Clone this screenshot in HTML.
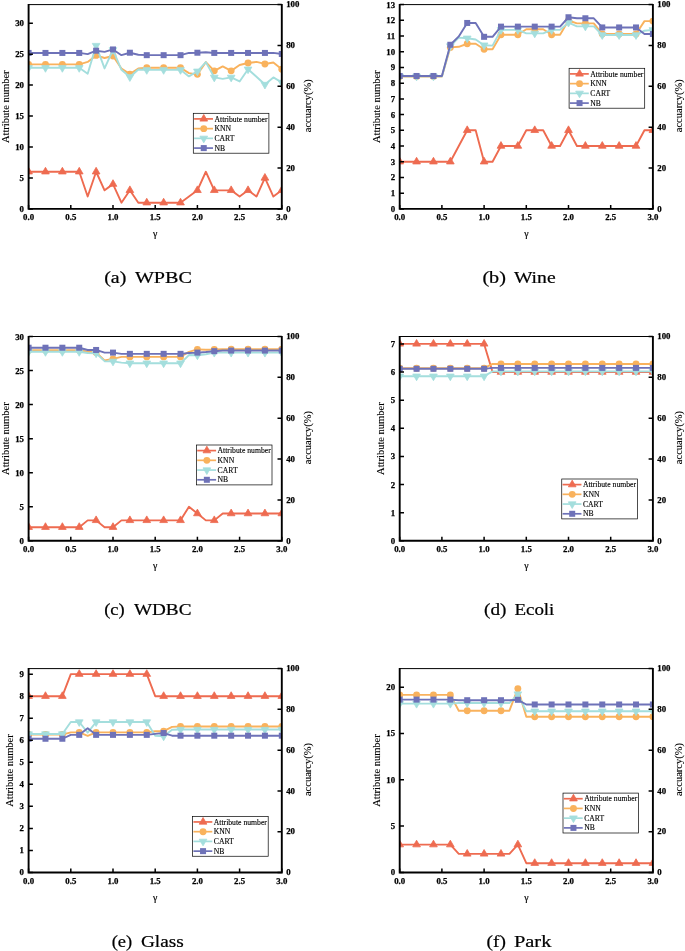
<!DOCTYPE html>
<html lang="en"><head><meta charset="utf-8"><title>Figure</title>
<style>
html,body{margin:0;padding:0;background:#fff}
body{width:685px;height:951px;overflow:hidden}
svg{display:block}
text{font-family:"Liberation Serif","Times New Roman",serif;fill:#000}
.tk{font-size:8.8px;font-weight:bold;stroke:#000;stroke-width:0.25px}
.ax{font-size:10.5px;stroke:#000;stroke-width:0.1px}
.lg{font-size:7.7px;stroke:#000;stroke-width:0.12px}
.cap{font-size:17.4px;stroke:#000;stroke-width:0.22px}
.gm{font-size:9.8px;stroke:#000;stroke-width:0.2px}
</style></head><body>
<svg width="685" height="951" viewBox="0 0 685 951">
<rect width="685" height="951" fill="#fff"/>
<g id="panel-a">
<clipPath id="cpa"><rect x="28.6" y="4.6" width="253.2" height="204.3"/></clipPath>
<g clip-path="url(#cpa)">
<path d="M28.6 171.75 L37.04 171.75 L45.48 171.75 L53.92 171.75 L62.36 171.75 L70.8 171.75 L79.24 171.75 L87.68 196.52 L96.12 171.75 L104.56 190.33 L113 184.14 L121.44 202.71 L129.88 190.33 L138.32 202.71 L146.76 202.71 L155.2 202.71 L163.64 202.71 L172.08 202.71 L180.52 202.71 L188.96 196.52 L197.4 190.33 L205.84 171.75 L214.28 190.33 L222.72 190.33 L231.16 190.33 L239.6 196.52 L248.04 190.33 L256.48 196.52 L264.92 177.95 L273.36 196.52 L281.8 190.33" fill="none" stroke="#EE6B50" stroke-width="1.9" stroke-linejoin="round"/>
<path d="M24.75 173.95H32.45L28.6 167.3Z" fill="#EE6B50" stroke="#EE6B50" stroke-width="0.8" stroke-linejoin="round"/><path d="M41.63 173.95H49.33L45.48 167.3Z" fill="#EE6B50" stroke="#EE6B50" stroke-width="0.8" stroke-linejoin="round"/><path d="M58.51 173.95H66.21L62.36 167.3Z" fill="#EE6B50" stroke="#EE6B50" stroke-width="0.8" stroke-linejoin="round"/><path d="M75.39 173.95H83.09L79.24 167.3Z" fill="#EE6B50" stroke="#EE6B50" stroke-width="0.8" stroke-linejoin="round"/><path d="M92.27 173.95H99.97L96.12 167.3Z" fill="#EE6B50" stroke="#EE6B50" stroke-width="0.8" stroke-linejoin="round"/><path d="M109.15 186.34H116.85L113 179.69Z" fill="#EE6B50" stroke="#EE6B50" stroke-width="0.8" stroke-linejoin="round"/><path d="M126.03 192.53H133.73L129.88 185.88Z" fill="#EE6B50" stroke="#EE6B50" stroke-width="0.8" stroke-linejoin="round"/><path d="M142.91 204.91H150.61L146.76 198.26Z" fill="#EE6B50" stroke="#EE6B50" stroke-width="0.8" stroke-linejoin="round"/><path d="M159.79 204.91H167.49L163.64 198.26Z" fill="#EE6B50" stroke="#EE6B50" stroke-width="0.8" stroke-linejoin="round"/><path d="M176.67 204.91H184.37L180.52 198.26Z" fill="#EE6B50" stroke="#EE6B50" stroke-width="0.8" stroke-linejoin="round"/><path d="M193.55 192.53H201.25L197.4 185.88Z" fill="#EE6B50" stroke="#EE6B50" stroke-width="0.8" stroke-linejoin="round"/><path d="M210.43 192.53H218.13L214.28 185.88Z" fill="#EE6B50" stroke="#EE6B50" stroke-width="0.8" stroke-linejoin="round"/><path d="M227.31 192.53H235.01L231.16 185.88Z" fill="#EE6B50" stroke="#EE6B50" stroke-width="0.8" stroke-linejoin="round"/><path d="M244.19 192.53H251.89L248.04 185.88Z" fill="#EE6B50" stroke="#EE6B50" stroke-width="0.8" stroke-linejoin="round"/><path d="M261.07 180.15H268.77L264.92 173.5Z" fill="#EE6B50" stroke="#EE6B50" stroke-width="0.8" stroke-linejoin="round"/><path d="M277.95 192.53H285.65L281.8 185.88Z" fill="#EE6B50" stroke="#EE6B50" stroke-width="0.8" stroke-linejoin="round"/>
<path d="M28.6 64.35 L37.04 64.35 L45.48 64.35 L53.92 64.35 L62.36 64.35 L70.8 64.35 L79.24 64.35 L87.68 61.9 L96.12 55.38 L104.56 58.03 L113 55.99 L121.44 68.42 L129.88 74.13 L138.32 68.42 L146.76 67.81 L155.2 67.81 L163.64 67.81 L172.08 67.81 L180.52 67.81 L188.96 73.11 L197.4 74.34 L205.84 62.1 L214.28 70.87 L222.72 66.39 L231.16 70.87 L239.6 64.96 L248.04 63.02 L256.48 61.9 L264.92 63.94 L273.36 62.51 L281.8 69.24" fill="none" stroke="#F9B25D" stroke-width="1.9" stroke-linejoin="round"/>
<circle cx="28.6" cy="64.35" r="3.45" fill="#F9B25D"/><circle cx="45.48" cy="64.35" r="3.45" fill="#F9B25D"/><circle cx="62.36" cy="64.35" r="3.45" fill="#F9B25D"/><circle cx="79.24" cy="64.35" r="3.45" fill="#F9B25D"/><circle cx="96.12" cy="55.38" r="3.45" fill="#F9B25D"/><circle cx="113" cy="55.99" r="3.45" fill="#F9B25D"/><circle cx="129.88" cy="74.13" r="3.45" fill="#F9B25D"/><circle cx="146.76" cy="67.81" r="3.45" fill="#F9B25D"/><circle cx="163.64" cy="67.81" r="3.45" fill="#F9B25D"/><circle cx="180.52" cy="67.81" r="3.45" fill="#F9B25D"/><circle cx="197.4" cy="74.34" r="3.45" fill="#F9B25D"/><circle cx="214.28" cy="70.87" r="3.45" fill="#F9B25D"/><circle cx="231.16" cy="70.87" r="3.45" fill="#F9B25D"/><circle cx="248.04" cy="63.02" r="3.45" fill="#F9B25D"/><circle cx="264.92" cy="63.94" r="3.45" fill="#F9B25D"/><circle cx="281.8" cy="69.24" r="3.45" fill="#F9B25D"/>
<path d="M28.6 67.81 L37.04 67.81 L45.48 67.81 L53.92 67.81 L62.36 67.81 L70.8 67.81 L79.24 67.81 L87.68 73.73 L96.12 45.59 L104.56 68.42 L113 49.87 L121.44 69.85 L129.88 76.99 L138.32 69.44 L146.76 69.85 L155.2 69.85 L163.64 69.85 L172.08 69.85 L180.52 69.85 L188.96 76.38 L197.4 71.28 L205.84 62.1 L214.28 77.4 L222.72 78.82 L231.16 77.4 L239.6 81.47 L248.04 69.24 L256.48 76.78 L264.92 84.53 L273.36 77.4 L281.8 82.49" fill="none" stroke="#A4DEDD" stroke-width="1.9" stroke-linejoin="round"/>
<path d="M24.75 65.61H32.45L28.6 72.26Z" fill="#A4DEDD" stroke="#A4DEDD" stroke-width="0.8" stroke-linejoin="round"/><path d="M41.63 65.61H49.33L45.48 72.26Z" fill="#A4DEDD" stroke="#A4DEDD" stroke-width="0.8" stroke-linejoin="round"/><path d="M58.51 65.61H66.21L62.36 72.26Z" fill="#A4DEDD" stroke="#A4DEDD" stroke-width="0.8" stroke-linejoin="round"/><path d="M75.39 65.61H83.09L79.24 72.26Z" fill="#A4DEDD" stroke="#A4DEDD" stroke-width="0.8" stroke-linejoin="round"/><path d="M92.27 43.39H99.97L96.12 50.04Z" fill="#A4DEDD" stroke="#A4DEDD" stroke-width="0.8" stroke-linejoin="round"/><path d="M109.15 47.67H116.85L113 54.32Z" fill="#A4DEDD" stroke="#A4DEDD" stroke-width="0.8" stroke-linejoin="round"/><path d="M126.03 74.79H133.73L129.88 81.44Z" fill="#A4DEDD" stroke="#A4DEDD" stroke-width="0.8" stroke-linejoin="round"/><path d="M142.91 67.65H150.61L146.76 74.3Z" fill="#A4DEDD" stroke="#A4DEDD" stroke-width="0.8" stroke-linejoin="round"/><path d="M159.79 67.65H167.49L163.64 74.3Z" fill="#A4DEDD" stroke="#A4DEDD" stroke-width="0.8" stroke-linejoin="round"/><path d="M176.67 67.65H184.37L180.52 74.3Z" fill="#A4DEDD" stroke="#A4DEDD" stroke-width="0.8" stroke-linejoin="round"/><path d="M193.55 69.08H201.25L197.4 75.73Z" fill="#A4DEDD" stroke="#A4DEDD" stroke-width="0.8" stroke-linejoin="round"/><path d="M210.43 75.2H218.13L214.28 81.85Z" fill="#A4DEDD" stroke="#A4DEDD" stroke-width="0.8" stroke-linejoin="round"/><path d="M227.31 75.2H235.01L231.16 81.85Z" fill="#A4DEDD" stroke="#A4DEDD" stroke-width="0.8" stroke-linejoin="round"/><path d="M244.19 67.04H251.89L248.04 73.69Z" fill="#A4DEDD" stroke="#A4DEDD" stroke-width="0.8" stroke-linejoin="round"/><path d="M261.07 82.33H268.77L264.92 88.98Z" fill="#A4DEDD" stroke="#A4DEDD" stroke-width="0.8" stroke-linejoin="round"/><path d="M277.95 80.29H285.65L281.8 86.94Z" fill="#A4DEDD" stroke="#A4DEDD" stroke-width="0.8" stroke-linejoin="round"/>
<path d="M28.6 52.93 L37.04 52.93 L45.48 52.93 L53.92 52.93 L62.36 52.93 L70.8 52.93 L79.24 52.93 L87.68 54.15 L96.12 50.69 L104.56 51.91 L113 49.46 L121.44 55.17 L129.88 52.72 L138.32 54.76 L146.76 55.17 L155.2 55.17 L163.64 55.17 L172.08 55.17 L180.52 55.17 L188.96 52.93 L197.4 52.72 L205.84 52.32 L214.28 52.93 L222.72 52.93 L231.16 52.93 L239.6 52.93 L248.04 52.93 L256.48 52.93 L264.92 52.93 L273.36 52.93 L281.8 53.95" fill="none" stroke="#6E72B8" stroke-width="1.9" stroke-linejoin="round"/>
<rect x="25.6" y="49.93" width="6" height="6" fill="#6E72B8"/><rect x="42.48" y="49.93" width="6" height="6" fill="#6E72B8"/><rect x="59.36" y="49.93" width="6" height="6" fill="#6E72B8"/><rect x="76.24" y="49.93" width="6" height="6" fill="#6E72B8"/><rect x="93.12" y="47.69" width="6" height="6" fill="#6E72B8"/><rect x="110" y="46.46" width="6" height="6" fill="#6E72B8"/><rect x="126.88" y="49.72" width="6" height="6" fill="#6E72B8"/><rect x="143.76" y="52.17" width="6" height="6" fill="#6E72B8"/><rect x="160.64" y="52.17" width="6" height="6" fill="#6E72B8"/><rect x="177.52" y="52.17" width="6" height="6" fill="#6E72B8"/><rect x="194.4" y="49.72" width="6" height="6" fill="#6E72B8"/><rect x="211.28" y="49.93" width="6" height="6" fill="#6E72B8"/><rect x="228.16" y="49.93" width="6" height="6" fill="#6E72B8"/><rect x="245.04" y="49.93" width="6" height="6" fill="#6E72B8"/><rect x="261.92" y="49.93" width="6" height="6" fill="#6E72B8"/><rect x="278.8" y="50.95" width="6" height="6" fill="#6E72B8"/>
</g>
<path d="M28.6 4.6H281.8" stroke="#000" stroke-width="1" fill="none"/>
<path d="M28.6 4.1V208.9H281.8V4.1" stroke="#000" stroke-width="1.9" fill="none" stroke-linejoin="miter"/>
<path d="M28.6 208.9h4.3M28.6 177.95h4.3M28.6 146.99h4.3M28.6 116.04h4.3M28.6 85.08h4.3M28.6 54.13h4.3M28.6 23.17h4.3M281.8 208.9h-4.3M281.8 168.04h-4.3M281.8 127.18h-4.3M281.8 86.32h-4.3M281.8 45.46h-4.3M281.8 4.6h-4.3M28.6 208.9v-4.0M70.8 208.9v-4.0M113 208.9v-4.0M155.2 208.9v-4.0M197.4 208.9v-4.0M239.6 208.9v-4.0M281.8 208.9v-4.0" stroke="#000" stroke-width="1.5" fill="none"/>
<text class="tk" x="24" y="211.9" text-anchor="end">0</text><text class="tk" x="24" y="180.95" text-anchor="end">5</text><text class="tk" x="24" y="149.99" text-anchor="end">10</text><text class="tk" x="24" y="119.04" text-anchor="end">15</text><text class="tk" x="24" y="88.08" text-anchor="end">20</text><text class="tk" x="24" y="57.13" text-anchor="end">25</text><text class="tk" x="24" y="26.17" text-anchor="end">30</text>
<text class="tk" x="286.2" y="211.6">0</text><text class="tk" x="286.2" y="170.74">20</text><text class="tk" x="286.2" y="129.88">40</text><text class="tk" x="286.2" y="89.02">60</text><text class="tk" x="286.2" y="48.16">80</text><text class="tk" x="286.2" y="7.3">100</text>
<text class="tk" x="28.6" y="219.8" text-anchor="middle">0.0</text><text class="tk" x="70.8" y="219.8" text-anchor="middle">0.5</text><text class="tk" x="113" y="219.8" text-anchor="middle">1.0</text><text class="tk" x="155.2" y="219.8" text-anchor="middle">1.5</text><text class="tk" x="197.4" y="219.8" text-anchor="middle">2.0</text><text class="tk" x="239.6" y="219.8" text-anchor="middle">2.5</text><text class="tk" x="281.8" y="219.8" text-anchor="middle">3.0</text>
<text class="ax" transform="translate(8.7 106.75) rotate(-90)" text-anchor="middle">Attribute number</text>
<text class="ax" transform="translate(311.1 105.75) rotate(-90)" text-anchor="middle">accuarcy(%)</text>
<text class="gm" x="155.2" y="236.6" text-anchor="middle">γ</text>
<rect x="193.3" y="113.3" width="75.6" height="39.9" fill="#fff" stroke="#000" stroke-width="0.7"/>
<path d="M194.1 118.9h18.9" stroke="#EE6B50" stroke-width="1.7" fill="none"/><path d="M199.9 121.1H207.6L203.75 114.45Z" fill="#EE6B50" stroke="#EE6B50" stroke-width="0.8" stroke-linejoin="round"/><text class="lg" x="214.45" y="121.5">Attribute number</text>
<path d="M194.1 128.63h18.9" stroke="#F9B25D" stroke-width="1.7" fill="none"/><circle cx="203.75" cy="128.63" r="3.45" fill="#F9B25D"/><text class="lg" x="214.45" y="131.23">KNN</text>
<path d="M194.1 138.36h18.9" stroke="#A4DEDD" stroke-width="1.7" fill="none"/><path d="M199.9 136.16H207.6L203.75 142.81Z" fill="#A4DEDD" stroke="#A4DEDD" stroke-width="0.8" stroke-linejoin="round"/><text class="lg" x="214.45" y="140.96">CART</text>
<path d="M194.1 148.09h18.9" stroke="#6E72B8" stroke-width="1.7" fill="none"/><rect x="200.75" y="145.09" width="6" height="6" fill="#6E72B8"/><text class="lg" x="214.45" y="150.69">NB</text>
<text class="cap" x="104.2" y="282.9" textLength="22.1" lengthAdjust="spacingAndGlyphs">(a)</text><text class="cap" x="134.9" y="282.9" textLength="57" lengthAdjust="spacingAndGlyphs">WPBC</text>
</g>
<g id="panel-b">
<clipPath id="cpb"><rect x="399.7" y="4.6" width="253.2" height="204.3"/></clipPath>
<g clip-path="url(#cpb)">
<path d="M399.7 161.75 L408.14 161.75 L416.58 161.75 L425.02 161.75 L433.46 161.75 L441.9 161.75 L450.34 161.75 L458.78 146.04 L467.22 130.32 L475.66 130.32 L484.1 161.75 L492.54 161.75 L500.98 146.04 L509.42 146.04 L517.86 146.04 L526.3 130.32 L534.74 130.32 L543.18 130.32 L551.62 146.04 L560.06 146.04 L568.5 130.32 L576.94 146.04 L585.38 146.04 L593.82 146.04 L602.26 146.04 L610.7 146.04 L619.14 146.04 L627.58 146.04 L636.02 146.04 L644.46 130.32 L652.9 130.32" fill="none" stroke="#EE6B50" stroke-width="1.9" stroke-linejoin="round"/>
<path d="M395.85 163.95H403.55L399.7 157.3Z" fill="#EE6B50" stroke="#EE6B50" stroke-width="0.8" stroke-linejoin="round"/><path d="M412.73 163.95H420.43L416.58 157.3Z" fill="#EE6B50" stroke="#EE6B50" stroke-width="0.8" stroke-linejoin="round"/><path d="M429.61 163.95H437.31L433.46 157.3Z" fill="#EE6B50" stroke="#EE6B50" stroke-width="0.8" stroke-linejoin="round"/><path d="M446.49 163.95H454.19L450.34 157.3Z" fill="#EE6B50" stroke="#EE6B50" stroke-width="0.8" stroke-linejoin="round"/><path d="M463.37 132.52H471.07L467.22 125.87Z" fill="#EE6B50" stroke="#EE6B50" stroke-width="0.8" stroke-linejoin="round"/><path d="M480.25 163.95H487.95L484.1 157.3Z" fill="#EE6B50" stroke="#EE6B50" stroke-width="0.8" stroke-linejoin="round"/><path d="M497.13 148.24H504.83L500.98 141.59Z" fill="#EE6B50" stroke="#EE6B50" stroke-width="0.8" stroke-linejoin="round"/><path d="M514.01 148.24H521.71L517.86 141.59Z" fill="#EE6B50" stroke="#EE6B50" stroke-width="0.8" stroke-linejoin="round"/><path d="M530.89 132.52H538.59L534.74 125.87Z" fill="#EE6B50" stroke="#EE6B50" stroke-width="0.8" stroke-linejoin="round"/><path d="M547.77 148.24H555.47L551.62 141.59Z" fill="#EE6B50" stroke="#EE6B50" stroke-width="0.8" stroke-linejoin="round"/><path d="M564.65 132.52H572.35L568.5 125.87Z" fill="#EE6B50" stroke="#EE6B50" stroke-width="0.8" stroke-linejoin="round"/><path d="M581.53 148.24H589.23L585.38 141.59Z" fill="#EE6B50" stroke="#EE6B50" stroke-width="0.8" stroke-linejoin="round"/><path d="M598.41 148.24H606.11L602.26 141.59Z" fill="#EE6B50" stroke="#EE6B50" stroke-width="0.8" stroke-linejoin="round"/><path d="M615.29 148.24H622.99L619.14 141.59Z" fill="#EE6B50" stroke="#EE6B50" stroke-width="0.8" stroke-linejoin="round"/><path d="M632.17 148.24H639.87L636.02 141.59Z" fill="#EE6B50" stroke="#EE6B50" stroke-width="0.8" stroke-linejoin="round"/><path d="M649.05 132.52H656.75L652.9 125.87Z" fill="#EE6B50" stroke="#EE6B50" stroke-width="0.8" stroke-linejoin="round"/>
<path d="M399.7 76.58 L408.14 76.58 L416.58 76.58 L425.02 76.58 L433.46 76.58 L441.9 76.58 L450.34 47.42 L458.78 46.81 L467.22 43.75 L475.66 43.75 L484.1 49.26 L492.54 49.26 L500.98 34.78 L509.42 34.78 L517.86 34.78 L526.3 29.28 L534.74 29.28 L543.18 29.28 L551.62 34.78 L560.06 34.78 L568.5 20.51 L576.94 23.36 L585.38 23.36 L593.82 23.36 L602.26 33.97 L610.7 33.97 L619.14 33.97 L627.58 33.97 L636.02 33.97 L644.46 21.12 L652.9 21.12" fill="none" stroke="#F9B25D" stroke-width="1.9" stroke-linejoin="round"/>
<circle cx="399.7" cy="76.58" r="3.45" fill="#F9B25D"/><circle cx="416.58" cy="76.58" r="3.45" fill="#F9B25D"/><circle cx="433.46" cy="76.58" r="3.45" fill="#F9B25D"/><circle cx="450.34" cy="47.42" r="3.45" fill="#F9B25D"/><circle cx="467.22" cy="43.75" r="3.45" fill="#F9B25D"/><circle cx="484.1" cy="49.26" r="3.45" fill="#F9B25D"/><circle cx="500.98" cy="34.78" r="3.45" fill="#F9B25D"/><circle cx="517.86" cy="34.78" r="3.45" fill="#F9B25D"/><circle cx="534.74" cy="29.28" r="3.45" fill="#F9B25D"/><circle cx="551.62" cy="34.78" r="3.45" fill="#F9B25D"/><circle cx="568.5" cy="20.51" r="3.45" fill="#F9B25D"/><circle cx="585.38" cy="23.36" r="3.45" fill="#F9B25D"/><circle cx="602.26" cy="33.97" r="3.45" fill="#F9B25D"/><circle cx="619.14" cy="33.97" r="3.45" fill="#F9B25D"/><circle cx="636.02" cy="33.97" r="3.45" fill="#F9B25D"/><circle cx="652.9" cy="21.12" r="3.45" fill="#F9B25D"/>
<path d="M399.7 76.38 L408.14 76.38 L416.58 76.38 L425.02 76.38 L433.46 76.38 L441.9 76.38 L450.34 46 L458.78 37.64 L467.22 38.25 L475.66 39.47 L484.1 45.18 L492.54 45.59 L500.98 29.89 L509.42 29.89 L517.86 29.89 L526.3 33.35 L534.74 33.35 L543.18 33.35 L551.62 29.89 L560.06 29.89 L568.5 22.55 L576.94 26.42 L585.38 26.42 L593.82 26.42 L602.26 34.98 L610.7 34.98 L619.14 34.98 L627.58 34.98 L636.02 34.98 L644.46 30.7 L652.9 29.89" fill="none" stroke="#A4DEDD" stroke-width="1.9" stroke-linejoin="round"/>
<path d="M395.85 74.18H403.55L399.7 80.83Z" fill="#A4DEDD" stroke="#A4DEDD" stroke-width="0.8" stroke-linejoin="round"/><path d="M412.73 74.18H420.43L416.58 80.83Z" fill="#A4DEDD" stroke="#A4DEDD" stroke-width="0.8" stroke-linejoin="round"/><path d="M429.61 74.18H437.31L433.46 80.83Z" fill="#A4DEDD" stroke="#A4DEDD" stroke-width="0.8" stroke-linejoin="round"/><path d="M446.49 43.8H454.19L450.34 50.45Z" fill="#A4DEDD" stroke="#A4DEDD" stroke-width="0.8" stroke-linejoin="round"/><path d="M463.37 36.05H471.07L467.22 42.7Z" fill="#A4DEDD" stroke="#A4DEDD" stroke-width="0.8" stroke-linejoin="round"/><path d="M480.25 42.98H487.95L484.1 49.63Z" fill="#A4DEDD" stroke="#A4DEDD" stroke-width="0.8" stroke-linejoin="round"/><path d="M497.13 27.69H504.83L500.98 34.34Z" fill="#A4DEDD" stroke="#A4DEDD" stroke-width="0.8" stroke-linejoin="round"/><path d="M514.01 27.69H521.71L517.86 34.34Z" fill="#A4DEDD" stroke="#A4DEDD" stroke-width="0.8" stroke-linejoin="round"/><path d="M530.89 31.15H538.59L534.74 37.8Z" fill="#A4DEDD" stroke="#A4DEDD" stroke-width="0.8" stroke-linejoin="round"/><path d="M547.77 27.69H555.47L551.62 34.34Z" fill="#A4DEDD" stroke="#A4DEDD" stroke-width="0.8" stroke-linejoin="round"/><path d="M564.65 20.35H572.35L568.5 27Z" fill="#A4DEDD" stroke="#A4DEDD" stroke-width="0.8" stroke-linejoin="round"/><path d="M581.53 24.22H589.23L585.38 30.87Z" fill="#A4DEDD" stroke="#A4DEDD" stroke-width="0.8" stroke-linejoin="round"/><path d="M598.41 32.78H606.11L602.26 39.43Z" fill="#A4DEDD" stroke="#A4DEDD" stroke-width="0.8" stroke-linejoin="round"/><path d="M615.29 32.78H622.99L619.14 39.43Z" fill="#A4DEDD" stroke="#A4DEDD" stroke-width="0.8" stroke-linejoin="round"/><path d="M632.17 32.78H639.87L636.02 39.43Z" fill="#A4DEDD" stroke="#A4DEDD" stroke-width="0.8" stroke-linejoin="round"/><path d="M649.05 27.69H656.75L652.9 34.34Z" fill="#A4DEDD" stroke="#A4DEDD" stroke-width="0.8" stroke-linejoin="round"/>
<path d="M399.7 75.97 L408.14 75.97 L416.58 75.97 L425.02 75.97 L433.46 75.97 L441.9 75.97 L450.34 44.77 L458.78 36.41 L467.22 22.95 L475.66 22.95 L484.1 36.82 L492.54 36.82 L500.98 26.63 L509.42 26.63 L517.86 26.63 L526.3 26.63 L534.74 26.63 L543.18 26.63 L551.62 26.63 L560.06 26.63 L568.5 17.25 L576.94 18.27 L585.38 18.27 L593.82 18.27 L602.26 27.44 L610.7 27.44 L619.14 27.44 L627.58 27.44 L636.02 27.44 L644.46 33.97 L652.9 33.97" fill="none" stroke="#6E72B8" stroke-width="1.9" stroke-linejoin="round"/>
<rect x="396.7" y="72.97" width="6" height="6" fill="#6E72B8"/><rect x="413.58" y="72.97" width="6" height="6" fill="#6E72B8"/><rect x="430.46" y="72.97" width="6" height="6" fill="#6E72B8"/><rect x="447.34" y="41.77" width="6" height="6" fill="#6E72B8"/><rect x="464.22" y="19.95" width="6" height="6" fill="#6E72B8"/><rect x="481.1" y="33.82" width="6" height="6" fill="#6E72B8"/><rect x="497.98" y="23.63" width="6" height="6" fill="#6E72B8"/><rect x="514.86" y="23.63" width="6" height="6" fill="#6E72B8"/><rect x="531.74" y="23.63" width="6" height="6" fill="#6E72B8"/><rect x="548.62" y="23.63" width="6" height="6" fill="#6E72B8"/><rect x="565.5" y="14.25" width="6" height="6" fill="#6E72B8"/><rect x="582.38" y="15.27" width="6" height="6" fill="#6E72B8"/><rect x="599.26" y="24.44" width="6" height="6" fill="#6E72B8"/><rect x="616.14" y="24.44" width="6" height="6" fill="#6E72B8"/><rect x="633.02" y="24.44" width="6" height="6" fill="#6E72B8"/><rect x="649.9" y="30.97" width="6" height="6" fill="#6E72B8"/>
</g>
<path d="M399.7 4.6H652.9" stroke="#000" stroke-width="1" fill="none"/>
<path d="M399.7 4.1V208.9H652.9V4.1" stroke="#000" stroke-width="1.9" fill="none" stroke-linejoin="miter"/>
<path d="M399.7 208.9h4.3M399.7 193.18h4.3M399.7 177.47h4.3M399.7 161.75h4.3M399.7 146.04h4.3M399.7 130.32h4.3M399.7 114.61h4.3M399.7 98.89h4.3M399.7 83.18h4.3M399.7 67.46h4.3M399.7 51.75h4.3M399.7 36.03h4.3M399.7 20.32h4.3M399.7 4.6h4.3M652.9 208.9h-4.3M652.9 168.04h-4.3M652.9 127.18h-4.3M652.9 86.32h-4.3M652.9 45.46h-4.3M652.9 4.6h-4.3M399.7 208.9v-4.0M441.9 208.9v-4.0M484.1 208.9v-4.0M526.3 208.9v-4.0M568.5 208.9v-4.0M610.7 208.9v-4.0M652.9 208.9v-4.0" stroke="#000" stroke-width="1.5" fill="none"/>
<text class="tk" x="395.1" y="211.9" text-anchor="end">0</text><text class="tk" x="395.1" y="196.18" text-anchor="end">1</text><text class="tk" x="395.1" y="180.47" text-anchor="end">2</text><text class="tk" x="395.1" y="164.75" text-anchor="end">3</text><text class="tk" x="395.1" y="149.04" text-anchor="end">4</text><text class="tk" x="395.1" y="133.32" text-anchor="end">5</text><text class="tk" x="395.1" y="117.61" text-anchor="end">6</text><text class="tk" x="395.1" y="101.89" text-anchor="end">7</text><text class="tk" x="395.1" y="86.18" text-anchor="end">8</text><text class="tk" x="395.1" y="70.46" text-anchor="end">9</text><text class="tk" x="395.1" y="54.75" text-anchor="end">10</text><text class="tk" x="395.1" y="39.03" text-anchor="end">11</text><text class="tk" x="395.1" y="23.32" text-anchor="end">12</text><text class="tk" x="395.1" y="7.6" text-anchor="end">13</text>
<text class="tk" x="657.3" y="211.6">0</text><text class="tk" x="657.3" y="170.74">20</text><text class="tk" x="657.3" y="129.88">40</text><text class="tk" x="657.3" y="89.02">60</text><text class="tk" x="657.3" y="48.16">80</text><text class="tk" x="657.3" y="7.3">100</text>
<text class="tk" x="399.7" y="219.8" text-anchor="middle">0.0</text><text class="tk" x="441.9" y="219.8" text-anchor="middle">0.5</text><text class="tk" x="484.1" y="219.8" text-anchor="middle">1.0</text><text class="tk" x="526.3" y="219.8" text-anchor="middle">1.5</text><text class="tk" x="568.5" y="219.8" text-anchor="middle">2.0</text><text class="tk" x="610.7" y="219.8" text-anchor="middle">2.5</text><text class="tk" x="652.9" y="219.8" text-anchor="middle">3.0</text>
<text class="ax" transform="translate(379.8 106.75) rotate(-90)" text-anchor="middle">Attribute number</text>
<text class="ax" transform="translate(682.2 105.75) rotate(-90)" text-anchor="middle">accuarcy(%)</text>
<text class="gm" x="526.3" y="236.6" text-anchor="middle">γ</text>
<rect x="569.1" y="68.3" width="75.6" height="39.9" fill="#fff" stroke="#000" stroke-width="0.7"/>
<path d="M569.9 73.9h18.9" stroke="#EE6B50" stroke-width="1.7" fill="none"/><path d="M575.7 76.1H583.4L579.55 69.45Z" fill="#EE6B50" stroke="#EE6B50" stroke-width="0.8" stroke-linejoin="round"/><text class="lg" x="590.25" y="76.5">Attribute number</text>
<path d="M569.9 83.63h18.9" stroke="#F9B25D" stroke-width="1.7" fill="none"/><circle cx="579.55" cy="83.63" r="3.45" fill="#F9B25D"/><text class="lg" x="590.25" y="86.23">KNN</text>
<path d="M569.9 93.36h18.9" stroke="#A4DEDD" stroke-width="1.7" fill="none"/><path d="M575.7 91.16H583.4L579.55 97.81Z" fill="#A4DEDD" stroke="#A4DEDD" stroke-width="0.8" stroke-linejoin="round"/><text class="lg" x="590.25" y="95.96">CART</text>
<path d="M569.9 103.09h18.9" stroke="#6E72B8" stroke-width="1.7" fill="none"/><rect x="576.55" y="100.09" width="6" height="6" fill="#6E72B8"/><text class="lg" x="590.25" y="105.69">NB</text>
<text class="cap" x="482.4" y="282.9" textLength="23.5" lengthAdjust="spacingAndGlyphs">(b)</text><text class="cap" x="513.9" y="282.9" textLength="41.7" lengthAdjust="spacingAndGlyphs">Wine</text>
</g>
<g id="panel-c">
<clipPath id="cpc"><rect x="28.6" y="336.5" width="253.2" height="204.3"/></clipPath>
<g clip-path="url(#cpc)">
<path d="M28.6 527.18 L37.04 527.18 L45.48 527.18 L53.92 527.18 L62.36 527.18 L70.8 527.18 L79.24 527.18 L87.68 520.37 L96.12 520.37 L104.56 527.18 L113 527.18 L121.44 520.37 L129.88 520.37 L138.32 520.37 L146.76 520.37 L155.2 520.37 L163.64 520.37 L172.08 520.37 L180.52 520.37 L188.96 506.75 L197.4 513.56 L205.84 520.37 L214.28 520.37 L222.72 513.56 L231.16 513.56 L239.6 513.56 L248.04 513.56 L256.48 513.56 L264.92 513.56 L273.36 513.56 L281.8 513.56" fill="none" stroke="#EE6B50" stroke-width="1.9" stroke-linejoin="round"/>
<path d="M24.75 529.38H32.45L28.6 522.73Z" fill="#EE6B50" stroke="#EE6B50" stroke-width="0.8" stroke-linejoin="round"/><path d="M41.63 529.38H49.33L45.48 522.73Z" fill="#EE6B50" stroke="#EE6B50" stroke-width="0.8" stroke-linejoin="round"/><path d="M58.51 529.38H66.21L62.36 522.73Z" fill="#EE6B50" stroke="#EE6B50" stroke-width="0.8" stroke-linejoin="round"/><path d="M75.39 529.38H83.09L79.24 522.73Z" fill="#EE6B50" stroke="#EE6B50" stroke-width="0.8" stroke-linejoin="round"/><path d="M92.27 522.57H99.97L96.12 515.92Z" fill="#EE6B50" stroke="#EE6B50" stroke-width="0.8" stroke-linejoin="round"/><path d="M109.15 529.38H116.85L113 522.73Z" fill="#EE6B50" stroke="#EE6B50" stroke-width="0.8" stroke-linejoin="round"/><path d="M126.03 522.57H133.73L129.88 515.92Z" fill="#EE6B50" stroke="#EE6B50" stroke-width="0.8" stroke-linejoin="round"/><path d="M142.91 522.57H150.61L146.76 515.92Z" fill="#EE6B50" stroke="#EE6B50" stroke-width="0.8" stroke-linejoin="round"/><path d="M159.79 522.57H167.49L163.64 515.92Z" fill="#EE6B50" stroke="#EE6B50" stroke-width="0.8" stroke-linejoin="round"/><path d="M176.67 522.57H184.37L180.52 515.92Z" fill="#EE6B50" stroke="#EE6B50" stroke-width="0.8" stroke-linejoin="round"/><path d="M193.55 515.76H201.25L197.4 509.11Z" fill="#EE6B50" stroke="#EE6B50" stroke-width="0.8" stroke-linejoin="round"/><path d="M210.43 522.57H218.13L214.28 515.92Z" fill="#EE6B50" stroke="#EE6B50" stroke-width="0.8" stroke-linejoin="round"/><path d="M227.31 515.76H235.01L231.16 509.11Z" fill="#EE6B50" stroke="#EE6B50" stroke-width="0.8" stroke-linejoin="round"/><path d="M244.19 515.76H251.89L248.04 509.11Z" fill="#EE6B50" stroke="#EE6B50" stroke-width="0.8" stroke-linejoin="round"/><path d="M261.07 515.76H268.77L264.92 509.11Z" fill="#EE6B50" stroke="#EE6B50" stroke-width="0.8" stroke-linejoin="round"/><path d="M277.95 515.76H285.65L281.8 509.11Z" fill="#EE6B50" stroke="#EE6B50" stroke-width="0.8" stroke-linejoin="round"/>
<path d="M28.6 350.17 L37.04 350.17 L45.48 350.17 L53.92 350.17 L62.36 350.17 L70.8 350.17 L79.24 350.17 L87.68 351.8 L96.12 352.41 L104.56 360.36 L113 358.93 L121.44 356.89 L129.88 356.89 L138.32 356.89 L146.76 356.89 L155.2 356.89 L163.64 356.89 L172.08 356.89 L180.52 356.89 L188.96 351.8 L197.4 349.35 L205.84 349.76 L214.28 349.55 L222.72 349.15 L231.16 349.15 L239.6 349.15 L248.04 349.15 L256.48 349.15 L264.92 349.15 L273.36 349.15 L281.8 349.15" fill="none" stroke="#F9B25D" stroke-width="1.9" stroke-linejoin="round"/>
<circle cx="28.6" cy="350.17" r="3.45" fill="#F9B25D"/><circle cx="45.48" cy="350.17" r="3.45" fill="#F9B25D"/><circle cx="62.36" cy="350.17" r="3.45" fill="#F9B25D"/><circle cx="79.24" cy="350.17" r="3.45" fill="#F9B25D"/><circle cx="96.12" cy="352.41" r="3.45" fill="#F9B25D"/><circle cx="113" cy="358.93" r="3.45" fill="#F9B25D"/><circle cx="129.88" cy="356.89" r="3.45" fill="#F9B25D"/><circle cx="146.76" cy="356.89" r="3.45" fill="#F9B25D"/><circle cx="163.64" cy="356.89" r="3.45" fill="#F9B25D"/><circle cx="180.52" cy="356.89" r="3.45" fill="#F9B25D"/><circle cx="197.4" cy="349.35" r="3.45" fill="#F9B25D"/><circle cx="214.28" cy="349.55" r="3.45" fill="#F9B25D"/><circle cx="231.16" cy="349.15" r="3.45" fill="#F9B25D"/><circle cx="248.04" cy="349.15" r="3.45" fill="#F9B25D"/><circle cx="264.92" cy="349.15" r="3.45" fill="#F9B25D"/><circle cx="281.8" cy="349.15" r="3.45" fill="#F9B25D"/>
<path d="M28.6 351.8 L37.04 351.8 L45.48 351.8 L53.92 351.8 L62.36 351.8 L70.8 351.8 L79.24 351.8 L87.68 353.02 L96.12 353.22 L104.56 361.18 L113 361.38 L121.44 362.6 L129.88 363.21 L138.32 363.21 L146.76 363.21 L155.2 363.21 L163.64 363.21 L172.08 363.21 L180.52 363.21 L188.96 355.06 L197.4 355.26 L205.84 354.24 L214.28 352.61 L222.72 352.61 L231.16 352.61 L239.6 352.61 L248.04 352.61 L256.48 352.61 L264.92 352.61 L273.36 352.61 L281.8 352.61" fill="none" stroke="#A4DEDD" stroke-width="1.9" stroke-linejoin="round"/>
<path d="M24.75 349.6H32.45L28.6 356.25Z" fill="#A4DEDD" stroke="#A4DEDD" stroke-width="0.8" stroke-linejoin="round"/><path d="M41.63 349.6H49.33L45.48 356.25Z" fill="#A4DEDD" stroke="#A4DEDD" stroke-width="0.8" stroke-linejoin="round"/><path d="M58.51 349.6H66.21L62.36 356.25Z" fill="#A4DEDD" stroke="#A4DEDD" stroke-width="0.8" stroke-linejoin="round"/><path d="M75.39 349.6H83.09L79.24 356.25Z" fill="#A4DEDD" stroke="#A4DEDD" stroke-width="0.8" stroke-linejoin="round"/><path d="M92.27 351.02H99.97L96.12 357.67Z" fill="#A4DEDD" stroke="#A4DEDD" stroke-width="0.8" stroke-linejoin="round"/><path d="M109.15 359.18H116.85L113 365.83Z" fill="#A4DEDD" stroke="#A4DEDD" stroke-width="0.8" stroke-linejoin="round"/><path d="M126.03 361.01H133.73L129.88 367.66Z" fill="#A4DEDD" stroke="#A4DEDD" stroke-width="0.8" stroke-linejoin="round"/><path d="M142.91 361.01H150.61L146.76 367.66Z" fill="#A4DEDD" stroke="#A4DEDD" stroke-width="0.8" stroke-linejoin="round"/><path d="M159.79 361.01H167.49L163.64 367.66Z" fill="#A4DEDD" stroke="#A4DEDD" stroke-width="0.8" stroke-linejoin="round"/><path d="M176.67 361.01H184.37L180.52 367.66Z" fill="#A4DEDD" stroke="#A4DEDD" stroke-width="0.8" stroke-linejoin="round"/><path d="M193.55 353.06H201.25L197.4 359.71Z" fill="#A4DEDD" stroke="#A4DEDD" stroke-width="0.8" stroke-linejoin="round"/><path d="M210.43 350.41H218.13L214.28 357.06Z" fill="#A4DEDD" stroke="#A4DEDD" stroke-width="0.8" stroke-linejoin="round"/><path d="M227.31 350.41H235.01L231.16 357.06Z" fill="#A4DEDD" stroke="#A4DEDD" stroke-width="0.8" stroke-linejoin="round"/><path d="M244.19 350.41H251.89L248.04 357.06Z" fill="#A4DEDD" stroke="#A4DEDD" stroke-width="0.8" stroke-linejoin="round"/><path d="M261.07 350.41H268.77L264.92 357.06Z" fill="#A4DEDD" stroke="#A4DEDD" stroke-width="0.8" stroke-linejoin="round"/><path d="M277.95 350.41H285.65L281.8 357.06Z" fill="#A4DEDD" stroke="#A4DEDD" stroke-width="0.8" stroke-linejoin="round"/>
<path d="M28.6 347.72 L37.04 347.72 L45.48 347.72 L53.92 347.72 L62.36 347.72 L70.8 347.72 L79.24 347.72 L87.68 349.96 L96.12 349.96 L104.56 352.61 L113 352.61 L121.44 353.84 L129.88 353.84 L138.32 353.84 L146.76 353.84 L155.2 353.84 L163.64 353.84 L172.08 353.84 L180.52 353.84 L188.96 353.02 L197.4 352.61 L205.84 352 L214.28 351.18 L222.72 350.57 L231.16 350.57 L239.6 350.57 L248.04 350.57 L256.48 350.57 L264.92 350.57 L273.36 350.57 L281.8 350.57" fill="none" stroke="#6E72B8" stroke-width="1.9" stroke-linejoin="round"/>
<rect x="25.6" y="344.72" width="6" height="6" fill="#6E72B8"/><rect x="42.48" y="344.72" width="6" height="6" fill="#6E72B8"/><rect x="59.36" y="344.72" width="6" height="6" fill="#6E72B8"/><rect x="76.24" y="344.72" width="6" height="6" fill="#6E72B8"/><rect x="93.12" y="346.96" width="6" height="6" fill="#6E72B8"/><rect x="110" y="349.61" width="6" height="6" fill="#6E72B8"/><rect x="126.88" y="350.84" width="6" height="6" fill="#6E72B8"/><rect x="143.76" y="350.84" width="6" height="6" fill="#6E72B8"/><rect x="160.64" y="350.84" width="6" height="6" fill="#6E72B8"/><rect x="177.52" y="350.84" width="6" height="6" fill="#6E72B8"/><rect x="194.4" y="349.61" width="6" height="6" fill="#6E72B8"/><rect x="211.28" y="348.18" width="6" height="6" fill="#6E72B8"/><rect x="228.16" y="347.57" width="6" height="6" fill="#6E72B8"/><rect x="245.04" y="347.57" width="6" height="6" fill="#6E72B8"/><rect x="261.92" y="347.57" width="6" height="6" fill="#6E72B8"/><rect x="278.8" y="347.57" width="6" height="6" fill="#6E72B8"/>
</g>
<path d="M28.6 336.5H281.8" stroke="#000" stroke-width="1" fill="none"/>
<path d="M28.6 336V540.8H281.8V336" stroke="#000" stroke-width="1.9" fill="none" stroke-linejoin="miter"/>
<path d="M28.6 540.8h4.3M28.6 506.75h4.3M28.6 472.7h4.3M28.6 438.65h4.3M28.6 404.6h4.3M28.6 370.55h4.3M28.6 336.5h4.3M281.8 540.8h-4.3M281.8 499.94h-4.3M281.8 459.08h-4.3M281.8 418.22h-4.3M281.8 377.36h-4.3M281.8 336.5h-4.3M28.6 540.8v-4.0M70.8 540.8v-4.0M113 540.8v-4.0M155.2 540.8v-4.0M197.4 540.8v-4.0M239.6 540.8v-4.0M281.8 540.8v-4.0" stroke="#000" stroke-width="1.5" fill="none"/>
<text class="tk" x="24" y="543.8" text-anchor="end">0</text><text class="tk" x="24" y="509.75" text-anchor="end">5</text><text class="tk" x="24" y="475.7" text-anchor="end">10</text><text class="tk" x="24" y="441.65" text-anchor="end">15</text><text class="tk" x="24" y="407.6" text-anchor="end">20</text><text class="tk" x="24" y="373.55" text-anchor="end">25</text><text class="tk" x="24" y="339.5" text-anchor="end">30</text>
<text class="tk" x="286.2" y="543.5">0</text><text class="tk" x="286.2" y="502.64">20</text><text class="tk" x="286.2" y="461.78">40</text><text class="tk" x="286.2" y="420.92">60</text><text class="tk" x="286.2" y="380.06">80</text><text class="tk" x="286.2" y="339.2">100</text>
<text class="tk" x="28.6" y="551.7" text-anchor="middle">0.0</text><text class="tk" x="70.8" y="551.7" text-anchor="middle">0.5</text><text class="tk" x="113" y="551.7" text-anchor="middle">1.0</text><text class="tk" x="155.2" y="551.7" text-anchor="middle">1.5</text><text class="tk" x="197.4" y="551.7" text-anchor="middle">2.0</text><text class="tk" x="239.6" y="551.7" text-anchor="middle">2.5</text><text class="tk" x="281.8" y="551.7" text-anchor="middle">3.0</text>
<text class="ax" transform="translate(8.7 438.65) rotate(-90)" text-anchor="middle">Attribute number</text>
<text class="ax" transform="translate(311.1 437.65) rotate(-90)" text-anchor="middle">accuarcy(%)</text>
<text class="gm" x="155.2" y="568.5" text-anchor="middle">γ</text>
<rect x="196.4" y="445" width="75.6" height="39.9" fill="#fff" stroke="#000" stroke-width="0.7"/>
<path d="M197.2 450.6h18.9" stroke="#EE6B50" stroke-width="1.7" fill="none"/><path d="M203 452.8H210.7L206.85 446.15Z" fill="#EE6B50" stroke="#EE6B50" stroke-width="0.8" stroke-linejoin="round"/><text class="lg" x="217.55" y="453.2">Attribute number</text>
<path d="M197.2 460.33h18.9" stroke="#F9B25D" stroke-width="1.7" fill="none"/><circle cx="206.85" cy="460.33" r="3.45" fill="#F9B25D"/><text class="lg" x="217.55" y="462.93">KNN</text>
<path d="M197.2 470.06h18.9" stroke="#A4DEDD" stroke-width="1.7" fill="none"/><path d="M203 467.86H210.7L206.85 474.51Z" fill="#A4DEDD" stroke="#A4DEDD" stroke-width="0.8" stroke-linejoin="round"/><text class="lg" x="217.55" y="472.66">CART</text>
<path d="M197.2 479.79h18.9" stroke="#6E72B8" stroke-width="1.7" fill="none"/><rect x="203.85" y="476.79" width="6" height="6" fill="#6E72B8"/><text class="lg" x="217.55" y="482.39">NB</text>
<text class="cap" x="104.2" y="614.8" textLength="20.5" lengthAdjust="spacingAndGlyphs">(c)</text><text class="cap" x="133.9" y="614.8" textLength="57.6" lengthAdjust="spacingAndGlyphs">WDBC</text>
</g>
<g id="panel-d">
<clipPath id="cpd"><rect x="399.7" y="336.5" width="253.2" height="204.3"/></clipPath>
<g clip-path="url(#cpd)">
<path d="M399.7 343.92 L408.14 343.92 L416.58 343.92 L425.02 343.92 L433.46 343.92 L441.9 343.92 L450.34 343.92 L458.78 343.92 L467.22 343.92 L475.66 343.92 L484.1 343.92 L492.54 372.05 L500.98 372.05 L509.42 372.05 L517.86 372.05 L526.3 372.05 L534.74 372.05 L543.18 372.05 L551.62 372.05 L560.06 372.05 L568.5 372.05 L576.94 372.05 L585.38 372.05 L593.82 372.05 L602.26 372.05 L610.7 372.05 L619.14 372.05 L627.58 372.05 L636.02 372.05 L644.46 372.05 L652.9 372.05" fill="none" stroke="#EE6B50" stroke-width="1.9" stroke-linejoin="round"/>
<path d="M395.85 346.12H403.55L399.7 339.47Z" fill="#EE6B50" stroke="#EE6B50" stroke-width="0.8" stroke-linejoin="round"/><path d="M412.73 346.12H420.43L416.58 339.47Z" fill="#EE6B50" stroke="#EE6B50" stroke-width="0.8" stroke-linejoin="round"/><path d="M429.61 346.12H437.31L433.46 339.47Z" fill="#EE6B50" stroke="#EE6B50" stroke-width="0.8" stroke-linejoin="round"/><path d="M446.49 346.12H454.19L450.34 339.47Z" fill="#EE6B50" stroke="#EE6B50" stroke-width="0.8" stroke-linejoin="round"/><path d="M463.37 346.12H471.07L467.22 339.47Z" fill="#EE6B50" stroke="#EE6B50" stroke-width="0.8" stroke-linejoin="round"/><path d="M480.25 346.12H487.95L484.1 339.47Z" fill="#EE6B50" stroke="#EE6B50" stroke-width="0.8" stroke-linejoin="round"/><path d="M497.13 374.25H504.83L500.98 367.6Z" fill="#EE6B50" stroke="#EE6B50" stroke-width="0.8" stroke-linejoin="round"/><path d="M514.01 374.25H521.71L517.86 367.6Z" fill="#EE6B50" stroke="#EE6B50" stroke-width="0.8" stroke-linejoin="round"/><path d="M530.89 374.25H538.59L534.74 367.6Z" fill="#EE6B50" stroke="#EE6B50" stroke-width="0.8" stroke-linejoin="round"/><path d="M547.77 374.25H555.47L551.62 367.6Z" fill="#EE6B50" stroke="#EE6B50" stroke-width="0.8" stroke-linejoin="round"/><path d="M564.65 374.25H572.35L568.5 367.6Z" fill="#EE6B50" stroke="#EE6B50" stroke-width="0.8" stroke-linejoin="round"/><path d="M581.53 374.25H589.23L585.38 367.6Z" fill="#EE6B50" stroke="#EE6B50" stroke-width="0.8" stroke-linejoin="round"/><path d="M598.41 374.25H606.11L602.26 367.6Z" fill="#EE6B50" stroke="#EE6B50" stroke-width="0.8" stroke-linejoin="round"/><path d="M615.29 374.25H622.99L619.14 367.6Z" fill="#EE6B50" stroke="#EE6B50" stroke-width="0.8" stroke-linejoin="round"/><path d="M632.17 374.25H639.87L636.02 367.6Z" fill="#EE6B50" stroke="#EE6B50" stroke-width="0.8" stroke-linejoin="round"/><path d="M649.05 374.25H656.75L652.9 367.6Z" fill="#EE6B50" stroke="#EE6B50" stroke-width="0.8" stroke-linejoin="round"/>
<path d="M399.7 368.21 L408.14 368.21 L416.58 368.21 L425.02 368.21 L433.46 368.21 L441.9 368.21 L450.34 368.21 L458.78 368.21 L467.22 368.21 L475.66 368.21 L484.1 368.21 L492.54 363.93 L500.98 363.93 L509.42 363.93 L517.86 363.93 L526.3 363.93 L534.74 363.93 L543.18 363.93 L551.62 363.93 L560.06 363.93 L568.5 363.93 L576.94 363.93 L585.38 363.93 L593.82 363.93 L602.26 363.93 L610.7 363.93 L619.14 363.93 L627.58 363.93 L636.02 363.93 L644.46 363.93 L652.9 363.93" fill="none" stroke="#F9B25D" stroke-width="1.9" stroke-linejoin="round"/>
<circle cx="399.7" cy="368.21" r="3.45" fill="#F9B25D"/><circle cx="416.58" cy="368.21" r="3.45" fill="#F9B25D"/><circle cx="433.46" cy="368.21" r="3.45" fill="#F9B25D"/><circle cx="450.34" cy="368.21" r="3.45" fill="#F9B25D"/><circle cx="467.22" cy="368.21" r="3.45" fill="#F9B25D"/><circle cx="484.1" cy="368.21" r="3.45" fill="#F9B25D"/><circle cx="500.98" cy="363.93" r="3.45" fill="#F9B25D"/><circle cx="517.86" cy="363.93" r="3.45" fill="#F9B25D"/><circle cx="534.74" cy="363.93" r="3.45" fill="#F9B25D"/><circle cx="551.62" cy="363.93" r="3.45" fill="#F9B25D"/><circle cx="568.5" cy="363.93" r="3.45" fill="#F9B25D"/><circle cx="585.38" cy="363.93" r="3.45" fill="#F9B25D"/><circle cx="602.26" cy="363.93" r="3.45" fill="#F9B25D"/><circle cx="619.14" cy="363.93" r="3.45" fill="#F9B25D"/><circle cx="636.02" cy="363.93" r="3.45" fill="#F9B25D"/><circle cx="652.9" cy="363.93" r="3.45" fill="#F9B25D"/>
<path d="M399.7 376.26 L408.14 376.26 L416.58 376.26 L425.02 376.26 L433.46 376.26 L441.9 376.26 L450.34 376.26 L458.78 376.26 L467.22 376.26 L475.66 376.26 L484.1 376.26 L492.54 371.37 L500.98 371.37 L509.42 371.37 L517.86 371.37 L526.3 371.37 L534.74 371.37 L543.18 371.37 L551.62 371.37 L560.06 371.37 L568.5 371.37 L576.94 371.37 L585.38 371.37 L593.82 371.37 L602.26 371.37 L610.7 371.37 L619.14 371.37 L627.58 371.37 L636.02 371.37 L644.46 371.37 L652.9 371.37" fill="none" stroke="#A4DEDD" stroke-width="1.9" stroke-linejoin="round"/>
<path d="M395.85 374.06H403.55L399.7 380.71Z" fill="#A4DEDD" stroke="#A4DEDD" stroke-width="0.8" stroke-linejoin="round"/><path d="M412.73 374.06H420.43L416.58 380.71Z" fill="#A4DEDD" stroke="#A4DEDD" stroke-width="0.8" stroke-linejoin="round"/><path d="M429.61 374.06H437.31L433.46 380.71Z" fill="#A4DEDD" stroke="#A4DEDD" stroke-width="0.8" stroke-linejoin="round"/><path d="M446.49 374.06H454.19L450.34 380.71Z" fill="#A4DEDD" stroke="#A4DEDD" stroke-width="0.8" stroke-linejoin="round"/><path d="M463.37 374.06H471.07L467.22 380.71Z" fill="#A4DEDD" stroke="#A4DEDD" stroke-width="0.8" stroke-linejoin="round"/><path d="M480.25 374.06H487.95L484.1 380.71Z" fill="#A4DEDD" stroke="#A4DEDD" stroke-width="0.8" stroke-linejoin="round"/><path d="M497.13 369.17H504.83L500.98 375.82Z" fill="#A4DEDD" stroke="#A4DEDD" stroke-width="0.8" stroke-linejoin="round"/><path d="M514.01 369.17H521.71L517.86 375.82Z" fill="#A4DEDD" stroke="#A4DEDD" stroke-width="0.8" stroke-linejoin="round"/><path d="M530.89 369.17H538.59L534.74 375.82Z" fill="#A4DEDD" stroke="#A4DEDD" stroke-width="0.8" stroke-linejoin="round"/><path d="M547.77 369.17H555.47L551.62 375.82Z" fill="#A4DEDD" stroke="#A4DEDD" stroke-width="0.8" stroke-linejoin="round"/><path d="M564.65 369.17H572.35L568.5 375.82Z" fill="#A4DEDD" stroke="#A4DEDD" stroke-width="0.8" stroke-linejoin="round"/><path d="M581.53 369.17H589.23L585.38 375.82Z" fill="#A4DEDD" stroke="#A4DEDD" stroke-width="0.8" stroke-linejoin="round"/><path d="M598.41 369.17H606.11L602.26 375.82Z" fill="#A4DEDD" stroke="#A4DEDD" stroke-width="0.8" stroke-linejoin="round"/><path d="M615.29 369.17H622.99L619.14 375.82Z" fill="#A4DEDD" stroke="#A4DEDD" stroke-width="0.8" stroke-linejoin="round"/><path d="M632.17 369.17H639.87L636.02 375.82Z" fill="#A4DEDD" stroke="#A4DEDD" stroke-width="0.8" stroke-linejoin="round"/><path d="M649.05 369.17H656.75L652.9 375.82Z" fill="#A4DEDD" stroke="#A4DEDD" stroke-width="0.8" stroke-linejoin="round"/>
<path d="M399.7 368.82 L408.14 368.82 L416.58 368.82 L425.02 368.82 L433.46 368.82 L441.9 368.82 L450.34 368.82 L458.78 368.82 L467.22 368.82 L475.66 368.82 L484.1 368.82 L492.54 367.9 L500.98 367.9 L509.42 367.9 L517.86 367.9 L526.3 367.9 L534.74 367.9 L543.18 367.9 L551.62 367.9 L560.06 367.9 L568.5 367.9 L576.94 367.9 L585.38 367.9 L593.82 367.9 L602.26 367.9 L610.7 367.9 L619.14 367.9 L627.58 367.9 L636.02 367.9 L644.46 367.9 L652.9 367.9" fill="none" stroke="#6E72B8" stroke-width="1.9" stroke-linejoin="round"/>
<rect x="396.7" y="365.82" width="6" height="6" fill="#6E72B8"/><rect x="413.58" y="365.82" width="6" height="6" fill="#6E72B8"/><rect x="430.46" y="365.82" width="6" height="6" fill="#6E72B8"/><rect x="447.34" y="365.82" width="6" height="6" fill="#6E72B8"/><rect x="464.22" y="365.82" width="6" height="6" fill="#6E72B8"/><rect x="481.1" y="365.82" width="6" height="6" fill="#6E72B8"/><rect x="497.98" y="364.9" width="6" height="6" fill="#6E72B8"/><rect x="514.86" y="364.9" width="6" height="6" fill="#6E72B8"/><rect x="531.74" y="364.9" width="6" height="6" fill="#6E72B8"/><rect x="548.62" y="364.9" width="6" height="6" fill="#6E72B8"/><rect x="565.5" y="364.9" width="6" height="6" fill="#6E72B8"/><rect x="582.38" y="364.9" width="6" height="6" fill="#6E72B8"/><rect x="599.26" y="364.9" width="6" height="6" fill="#6E72B8"/><rect x="616.14" y="364.9" width="6" height="6" fill="#6E72B8"/><rect x="633.02" y="364.9" width="6" height="6" fill="#6E72B8"/><rect x="649.9" y="364.9" width="6" height="6" fill="#6E72B8"/>
</g>
<path d="M399.7 336.5H652.9" stroke="#000" stroke-width="1" fill="none"/>
<path d="M399.7 336V540.8H652.9V336" stroke="#000" stroke-width="1.9" fill="none" stroke-linejoin="miter"/>
<path d="M399.7 540.8h4.3M399.7 512.67h4.3M399.7 484.55h4.3M399.7 456.42h4.3M399.7 428.3h4.3M399.7 400.17h4.3M399.7 372.05h4.3M399.7 343.92h4.3M652.9 540.8h-4.3M652.9 499.94h-4.3M652.9 459.08h-4.3M652.9 418.22h-4.3M652.9 377.36h-4.3M652.9 336.5h-4.3M399.7 540.8v-4.0M441.9 540.8v-4.0M484.1 540.8v-4.0M526.3 540.8v-4.0M568.5 540.8v-4.0M610.7 540.8v-4.0M652.9 540.8v-4.0" stroke="#000" stroke-width="1.5" fill="none"/>
<text class="tk" x="395.1" y="543.8" text-anchor="end">0</text><text class="tk" x="395.1" y="515.67" text-anchor="end">1</text><text class="tk" x="395.1" y="487.55" text-anchor="end">2</text><text class="tk" x="395.1" y="459.42" text-anchor="end">3</text><text class="tk" x="395.1" y="431.3" text-anchor="end">4</text><text class="tk" x="395.1" y="403.17" text-anchor="end">5</text><text class="tk" x="395.1" y="375.05" text-anchor="end">6</text><text class="tk" x="395.1" y="346.92" text-anchor="end">7</text>
<text class="tk" x="657.3" y="543.5">0</text><text class="tk" x="657.3" y="502.64">20</text><text class="tk" x="657.3" y="461.78">40</text><text class="tk" x="657.3" y="420.92">60</text><text class="tk" x="657.3" y="380.06">80</text><text class="tk" x="657.3" y="339.2">100</text>
<text class="tk" x="399.7" y="551.7" text-anchor="middle">0.0</text><text class="tk" x="441.9" y="551.7" text-anchor="middle">0.5</text><text class="tk" x="484.1" y="551.7" text-anchor="middle">1.0</text><text class="tk" x="526.3" y="551.7" text-anchor="middle">1.5</text><text class="tk" x="568.5" y="551.7" text-anchor="middle">2.0</text><text class="tk" x="610.7" y="551.7" text-anchor="middle">2.5</text><text class="tk" x="652.9" y="551.7" text-anchor="middle">3.0</text>
<text class="ax" transform="translate(384 438.65) rotate(-90)" text-anchor="middle">Attribute number</text>
<text class="ax" transform="translate(682.2 437.65) rotate(-90)" text-anchor="middle">accuarcy(%)</text>
<text class="gm" x="526.3" y="568.5" text-anchor="middle">γ</text>
<rect x="561.75" y="479" width="75.6" height="39.9" fill="#fff" stroke="#000" stroke-width="0.7"/>
<path d="M562.55 484.6h18.9" stroke="#EE6B50" stroke-width="1.7" fill="none"/><path d="M568.35 486.8H576.05L572.2 480.15Z" fill="#EE6B50" stroke="#EE6B50" stroke-width="0.8" stroke-linejoin="round"/><text class="lg" x="582.9" y="487.2">Attribute number</text>
<path d="M562.55 494.33h18.9" stroke="#F9B25D" stroke-width="1.7" fill="none"/><circle cx="572.2" cy="494.33" r="3.45" fill="#F9B25D"/><text class="lg" x="582.9" y="496.93">KNN</text>
<path d="M562.55 504.06h18.9" stroke="#A4DEDD" stroke-width="1.7" fill="none"/><path d="M568.35 501.86H576.05L572.2 508.51Z" fill="#A4DEDD" stroke="#A4DEDD" stroke-width="0.8" stroke-linejoin="round"/><text class="lg" x="582.9" y="506.66">CART</text>
<path d="M562.55 513.79h18.9" stroke="#6E72B8" stroke-width="1.7" fill="none"/><rect x="569.2" y="510.79" width="6" height="6" fill="#6E72B8"/><text class="lg" x="582.9" y="516.39">NB</text>
<text class="cap" x="484" y="614.8" textLength="22.4" lengthAdjust="spacingAndGlyphs">(d)</text><text class="cap" x="514.4" y="614.8" textLength="40" lengthAdjust="spacingAndGlyphs">Ecoli</text>
</g>
<g id="panel-e">
<clipPath id="cpe"><rect x="28.6" y="668.6" width="253.2" height="203.85"/></clipPath>
<g clip-path="url(#cpe)">
<path d="M28.6 696.2 L37.04 696.2 L45.48 696.2 L53.92 696.2 L62.36 696.2 L70.8 674.17 L79.24 674.17 L87.68 674.17 L96.12 674.17 L104.56 674.17 L113 674.17 L121.44 674.17 L129.88 674.17 L138.32 674.17 L146.76 674.17 L155.2 696.2 L163.64 696.2 L172.08 696.2 L180.52 696.2 L188.96 696.2 L197.4 696.2 L205.84 696.2 L214.28 696.2 L222.72 696.2 L231.16 696.2 L239.6 696.2 L248.04 696.2 L256.48 696.2 L264.92 696.2 L273.36 696.2 L281.8 696.2" fill="none" stroke="#EE6B50" stroke-width="1.9" stroke-linejoin="round"/>
<path d="M24.75 698.4H32.45L28.6 691.75Z" fill="#EE6B50" stroke="#EE6B50" stroke-width="0.8" stroke-linejoin="round"/><path d="M41.63 698.4H49.33L45.48 691.75Z" fill="#EE6B50" stroke="#EE6B50" stroke-width="0.8" stroke-linejoin="round"/><path d="M58.51 698.4H66.21L62.36 691.75Z" fill="#EE6B50" stroke="#EE6B50" stroke-width="0.8" stroke-linejoin="round"/><path d="M75.39 676.37H83.09L79.24 669.72Z" fill="#EE6B50" stroke="#EE6B50" stroke-width="0.8" stroke-linejoin="round"/><path d="M92.27 676.37H99.97L96.12 669.72Z" fill="#EE6B50" stroke="#EE6B50" stroke-width="0.8" stroke-linejoin="round"/><path d="M109.15 676.37H116.85L113 669.72Z" fill="#EE6B50" stroke="#EE6B50" stroke-width="0.8" stroke-linejoin="round"/><path d="M126.03 676.37H133.73L129.88 669.72Z" fill="#EE6B50" stroke="#EE6B50" stroke-width="0.8" stroke-linejoin="round"/><path d="M142.91 676.37H150.61L146.76 669.72Z" fill="#EE6B50" stroke="#EE6B50" stroke-width="0.8" stroke-linejoin="round"/><path d="M159.79 698.4H167.49L163.64 691.75Z" fill="#EE6B50" stroke="#EE6B50" stroke-width="0.8" stroke-linejoin="round"/><path d="M176.67 698.4H184.37L180.52 691.75Z" fill="#EE6B50" stroke="#EE6B50" stroke-width="0.8" stroke-linejoin="round"/><path d="M193.55 698.4H201.25L197.4 691.75Z" fill="#EE6B50" stroke="#EE6B50" stroke-width="0.8" stroke-linejoin="round"/><path d="M210.43 698.4H218.13L214.28 691.75Z" fill="#EE6B50" stroke="#EE6B50" stroke-width="0.8" stroke-linejoin="round"/><path d="M227.31 698.4H235.01L231.16 691.75Z" fill="#EE6B50" stroke="#EE6B50" stroke-width="0.8" stroke-linejoin="round"/><path d="M244.19 698.4H251.89L248.04 691.75Z" fill="#EE6B50" stroke="#EE6B50" stroke-width="0.8" stroke-linejoin="round"/><path d="M261.07 698.4H268.77L264.92 691.75Z" fill="#EE6B50" stroke="#EE6B50" stroke-width="0.8" stroke-linejoin="round"/><path d="M277.95 698.4H285.65L281.8 691.75Z" fill="#EE6B50" stroke="#EE6B50" stroke-width="0.8" stroke-linejoin="round"/>
<path d="M28.6 734.57 L37.04 734.57 L45.48 734.57 L53.92 734.57 L62.36 734.57 L70.8 732.42 L79.24 732.42 L87.68 735.89 L96.12 732.42 L104.56 732.42 L113 732.42 L121.44 732.42 L129.88 732.42 L138.32 732.42 L146.76 732.42 L155.2 731.2 L163.64 731.2 L172.08 726.92 L180.52 726.51 L188.96 726.51 L197.4 726.51 L205.84 726.51 L214.28 726.51 L222.72 726.51 L231.16 726.51 L239.6 726.51 L248.04 726.51 L256.48 726.51 L264.92 726.51 L273.36 726.51 L281.8 726.51" fill="none" stroke="#F9B25D" stroke-width="1.9" stroke-linejoin="round"/>
<circle cx="28.6" cy="734.57" r="3.45" fill="#F9B25D"/><circle cx="45.48" cy="734.57" r="3.45" fill="#F9B25D"/><circle cx="62.36" cy="734.57" r="3.45" fill="#F9B25D"/><circle cx="79.24" cy="732.42" r="3.45" fill="#F9B25D"/><circle cx="96.12" cy="732.42" r="3.45" fill="#F9B25D"/><circle cx="113" cy="732.42" r="3.45" fill="#F9B25D"/><circle cx="129.88" cy="732.42" r="3.45" fill="#F9B25D"/><circle cx="146.76" cy="732.42" r="3.45" fill="#F9B25D"/><circle cx="163.64" cy="731.2" r="3.45" fill="#F9B25D"/><circle cx="180.52" cy="726.51" r="3.45" fill="#F9B25D"/><circle cx="197.4" cy="726.51" r="3.45" fill="#F9B25D"/><circle cx="214.28" cy="726.51" r="3.45" fill="#F9B25D"/><circle cx="231.16" cy="726.51" r="3.45" fill="#F9B25D"/><circle cx="248.04" cy="726.51" r="3.45" fill="#F9B25D"/><circle cx="264.92" cy="726.51" r="3.45" fill="#F9B25D"/><circle cx="281.8" cy="726.51" r="3.45" fill="#F9B25D"/>
<path d="M28.6 734.06 L37.04 734.06 L45.48 734.06 L53.92 734.06 L62.36 734.06 L70.8 722.03 L79.24 722.03 L87.68 732.63 L96.12 722.03 L104.56 722.03 L113 722.03 L121.44 722.03 L129.88 722.03 L138.32 722.03 L146.76 722.03 L155.2 735.69 L163.64 736.3 L172.08 729.77 L180.52 729.57 L188.96 729.57 L197.4 729.57 L205.84 729.57 L214.28 729.57 L222.72 729.57 L231.16 729.57 L239.6 729.57 L248.04 729.57 L256.48 729.57 L264.92 729.57 L273.36 729.57 L281.8 729.57" fill="none" stroke="#A4DEDD" stroke-width="1.9" stroke-linejoin="round"/>
<path d="M24.75 731.86H32.45L28.6 738.51Z" fill="#A4DEDD" stroke="#A4DEDD" stroke-width="0.8" stroke-linejoin="round"/><path d="M41.63 731.86H49.33L45.48 738.51Z" fill="#A4DEDD" stroke="#A4DEDD" stroke-width="0.8" stroke-linejoin="round"/><path d="M58.51 731.86H66.21L62.36 738.51Z" fill="#A4DEDD" stroke="#A4DEDD" stroke-width="0.8" stroke-linejoin="round"/><path d="M75.39 719.83H83.09L79.24 726.48Z" fill="#A4DEDD" stroke="#A4DEDD" stroke-width="0.8" stroke-linejoin="round"/><path d="M92.27 719.83H99.97L96.12 726.48Z" fill="#A4DEDD" stroke="#A4DEDD" stroke-width="0.8" stroke-linejoin="round"/><path d="M109.15 719.83H116.85L113 726.48Z" fill="#A4DEDD" stroke="#A4DEDD" stroke-width="0.8" stroke-linejoin="round"/><path d="M126.03 719.83H133.73L129.88 726.48Z" fill="#A4DEDD" stroke="#A4DEDD" stroke-width="0.8" stroke-linejoin="round"/><path d="M142.91 719.83H150.61L146.76 726.48Z" fill="#A4DEDD" stroke="#A4DEDD" stroke-width="0.8" stroke-linejoin="round"/><path d="M159.79 734.1H167.49L163.64 740.75Z" fill="#A4DEDD" stroke="#A4DEDD" stroke-width="0.8" stroke-linejoin="round"/><path d="M176.67 727.37H184.37L180.52 734.02Z" fill="#A4DEDD" stroke="#A4DEDD" stroke-width="0.8" stroke-linejoin="round"/><path d="M193.55 727.37H201.25L197.4 734.02Z" fill="#A4DEDD" stroke="#A4DEDD" stroke-width="0.8" stroke-linejoin="round"/><path d="M210.43 727.37H218.13L214.28 734.02Z" fill="#A4DEDD" stroke="#A4DEDD" stroke-width="0.8" stroke-linejoin="round"/><path d="M227.31 727.37H235.01L231.16 734.02Z" fill="#A4DEDD" stroke="#A4DEDD" stroke-width="0.8" stroke-linejoin="round"/><path d="M244.19 727.37H251.89L248.04 734.02Z" fill="#A4DEDD" stroke="#A4DEDD" stroke-width="0.8" stroke-linejoin="round"/><path d="M261.07 727.37H268.77L264.92 734.02Z" fill="#A4DEDD" stroke="#A4DEDD" stroke-width="0.8" stroke-linejoin="round"/><path d="M277.95 727.37H285.65L281.8 734.02Z" fill="#A4DEDD" stroke="#A4DEDD" stroke-width="0.8" stroke-linejoin="round"/>
<path d="M28.6 738.75 L37.04 738.75 L45.48 738.75 L53.92 738.75 L62.36 738.75 L70.8 734.87 L79.24 734.87 L87.68 728.35 L96.12 734.87 L104.56 734.87 L113 734.87 L121.44 734.87 L129.88 734.87 L138.32 734.87 L146.76 734.87 L155.2 733.85 L163.64 733.04 L172.08 735.69 L180.52 735.69 L188.96 735.69 L197.4 735.69 L205.84 735.69 L214.28 735.69 L222.72 735.69 L231.16 735.69 L239.6 735.69 L248.04 735.69 L256.48 735.69 L264.92 735.69 L273.36 735.69 L281.8 735.69" fill="none" stroke="#6E72B8" stroke-width="1.9" stroke-linejoin="round"/>
<rect x="25.6" y="735.75" width="6" height="6" fill="#6E72B8"/><rect x="42.48" y="735.75" width="6" height="6" fill="#6E72B8"/><rect x="59.36" y="735.75" width="6" height="6" fill="#6E72B8"/><rect x="76.24" y="731.87" width="6" height="6" fill="#6E72B8"/><rect x="93.12" y="731.87" width="6" height="6" fill="#6E72B8"/><rect x="110" y="731.87" width="6" height="6" fill="#6E72B8"/><rect x="126.88" y="731.87" width="6" height="6" fill="#6E72B8"/><rect x="143.76" y="731.87" width="6" height="6" fill="#6E72B8"/><rect x="160.64" y="730.04" width="6" height="6" fill="#6E72B8"/><rect x="177.52" y="732.69" width="6" height="6" fill="#6E72B8"/><rect x="194.4" y="732.69" width="6" height="6" fill="#6E72B8"/><rect x="211.28" y="732.69" width="6" height="6" fill="#6E72B8"/><rect x="228.16" y="732.69" width="6" height="6" fill="#6E72B8"/><rect x="245.04" y="732.69" width="6" height="6" fill="#6E72B8"/><rect x="261.92" y="732.69" width="6" height="6" fill="#6E72B8"/><rect x="278.8" y="732.69" width="6" height="6" fill="#6E72B8"/>
</g>
<path d="M28.6 668.6H281.8" stroke="#000" stroke-width="1" fill="none"/>
<path d="M28.6 668.1V872.45H281.8V668.1" stroke="#000" stroke-width="1.9" fill="none" stroke-linejoin="miter"/>
<path d="M28.6 872.45h4.3M28.6 850.42h4.3M28.6 828.39h4.3M28.6 806.36h4.3M28.6 784.33h4.3M28.6 762.3h4.3M28.6 740.27h4.3M28.6 718.24h4.3M28.6 696.2h4.3M28.6 674.17h4.3M281.8 872.45h-4.3M281.8 831.68h-4.3M281.8 790.91h-4.3M281.8 750.14h-4.3M281.8 709.37h-4.3M281.8 668.6h-4.3M28.6 872.45v-4.0M70.8 872.45v-4.0M113 872.45v-4.0M155.2 872.45v-4.0M197.4 872.45v-4.0M239.6 872.45v-4.0M281.8 872.45v-4.0" stroke="#000" stroke-width="1.5" fill="none"/>
<text class="tk" x="24" y="875.45" text-anchor="end">0</text><text class="tk" x="24" y="853.42" text-anchor="end">1</text><text class="tk" x="24" y="831.39" text-anchor="end">2</text><text class="tk" x="24" y="809.36" text-anchor="end">3</text><text class="tk" x="24" y="787.33" text-anchor="end">4</text><text class="tk" x="24" y="765.3" text-anchor="end">5</text><text class="tk" x="24" y="743.27" text-anchor="end">6</text><text class="tk" x="24" y="721.24" text-anchor="end">7</text><text class="tk" x="24" y="699.2" text-anchor="end">8</text><text class="tk" x="24" y="677.17" text-anchor="end">9</text>
<text class="tk" x="286.2" y="875.15">0</text><text class="tk" x="286.2" y="834.38">20</text><text class="tk" x="286.2" y="793.61">40</text><text class="tk" x="286.2" y="752.84">60</text><text class="tk" x="286.2" y="712.07">80</text><text class="tk" x="286.2" y="671.3">100</text>
<text class="tk" x="28.6" y="883.8" text-anchor="middle">0.0</text><text class="tk" x="70.8" y="883.8" text-anchor="middle">0.5</text><text class="tk" x="113" y="883.8" text-anchor="middle">1.0</text><text class="tk" x="155.2" y="883.8" text-anchor="middle">1.5</text><text class="tk" x="197.4" y="883.8" text-anchor="middle">2.0</text><text class="tk" x="239.6" y="883.8" text-anchor="middle">2.5</text><text class="tk" x="281.8" y="883.8" text-anchor="middle">3.0</text>
<text class="ax" transform="translate(12.9 770.53) rotate(-90)" text-anchor="middle">Attribute number</text>
<text class="ax" transform="translate(311.1 769.53) rotate(-90)" text-anchor="middle">accuarcy(%)</text>
<text class="gm" x="155.2" y="900.6" text-anchor="middle">γ</text>
<rect x="192.6" y="816.35" width="75.6" height="39.9" fill="#fff" stroke="#000" stroke-width="0.7"/>
<path d="M193.4 821.95h18.9" stroke="#EE6B50" stroke-width="1.7" fill="none"/><path d="M199.2 824.15H206.9L203.05 817.5Z" fill="#EE6B50" stroke="#EE6B50" stroke-width="0.8" stroke-linejoin="round"/><text class="lg" x="213.75" y="824.55">Attribute number</text>
<path d="M193.4 831.68h18.9" stroke="#F9B25D" stroke-width="1.7" fill="none"/><circle cx="203.05" cy="831.68" r="3.45" fill="#F9B25D"/><text class="lg" x="213.75" y="834.28">KNN</text>
<path d="M193.4 841.41h18.9" stroke="#A4DEDD" stroke-width="1.7" fill="none"/><path d="M199.2 839.21H206.9L203.05 845.86Z" fill="#A4DEDD" stroke="#A4DEDD" stroke-width="0.8" stroke-linejoin="round"/><text class="lg" x="213.75" y="844.01">CART</text>
<path d="M193.4 851.14h18.9" stroke="#6E72B8" stroke-width="1.7" fill="none"/><rect x="200.05" y="848.14" width="6" height="6" fill="#6E72B8"/><text class="lg" x="213.75" y="853.74">NB</text>
<text class="cap" x="111.7" y="946.9" textLength="20.5" lengthAdjust="spacingAndGlyphs">(e)</text><text class="cap" x="140.9" y="946.9" textLength="42.8" lengthAdjust="spacingAndGlyphs">Glass</text>
</g>
<g id="panel-f">
<clipPath id="cpf"><rect x="399.7" y="668.6" width="253.2" height="203.85"/></clipPath>
<g clip-path="url(#cpf)">
<path d="M399.7 844.65 L408.14 844.65 L416.58 844.65 L425.02 844.65 L433.46 844.65 L441.9 844.65 L450.34 844.65 L458.78 853.92 L467.22 853.92 L475.66 853.92 L484.1 853.92 L492.54 853.92 L500.98 853.92 L509.42 853.92 L517.86 844.65 L526.3 863.18 L534.74 863.18 L543.18 863.18 L551.62 863.18 L560.06 863.18 L568.5 863.18 L576.94 863.18 L585.38 863.18 L593.82 863.18 L602.26 863.18 L610.7 863.18 L619.14 863.18 L627.58 863.18 L636.02 863.18 L644.46 863.18 L652.9 863.18" fill="none" stroke="#EE6B50" stroke-width="1.9" stroke-linejoin="round"/>
<path d="M395.85 846.85H403.55L399.7 840.2Z" fill="#EE6B50" stroke="#EE6B50" stroke-width="0.8" stroke-linejoin="round"/><path d="M412.73 846.85H420.43L416.58 840.2Z" fill="#EE6B50" stroke="#EE6B50" stroke-width="0.8" stroke-linejoin="round"/><path d="M429.61 846.85H437.31L433.46 840.2Z" fill="#EE6B50" stroke="#EE6B50" stroke-width="0.8" stroke-linejoin="round"/><path d="M446.49 846.85H454.19L450.34 840.2Z" fill="#EE6B50" stroke="#EE6B50" stroke-width="0.8" stroke-linejoin="round"/><path d="M463.37 856.12H471.07L467.22 849.47Z" fill="#EE6B50" stroke="#EE6B50" stroke-width="0.8" stroke-linejoin="round"/><path d="M480.25 856.12H487.95L484.1 849.47Z" fill="#EE6B50" stroke="#EE6B50" stroke-width="0.8" stroke-linejoin="round"/><path d="M497.13 856.12H504.83L500.98 849.47Z" fill="#EE6B50" stroke="#EE6B50" stroke-width="0.8" stroke-linejoin="round"/><path d="M514.01 846.85H521.71L517.86 840.2Z" fill="#EE6B50" stroke="#EE6B50" stroke-width="0.8" stroke-linejoin="round"/><path d="M530.89 865.38H538.59L534.74 858.73Z" fill="#EE6B50" stroke="#EE6B50" stroke-width="0.8" stroke-linejoin="round"/><path d="M547.77 865.38H555.47L551.62 858.73Z" fill="#EE6B50" stroke="#EE6B50" stroke-width="0.8" stroke-linejoin="round"/><path d="M564.65 865.38H572.35L568.5 858.73Z" fill="#EE6B50" stroke="#EE6B50" stroke-width="0.8" stroke-linejoin="round"/><path d="M581.53 865.38H589.23L585.38 858.73Z" fill="#EE6B50" stroke="#EE6B50" stroke-width="0.8" stroke-linejoin="round"/><path d="M598.41 865.38H606.11L602.26 858.73Z" fill="#EE6B50" stroke="#EE6B50" stroke-width="0.8" stroke-linejoin="round"/><path d="M615.29 865.38H622.99L619.14 858.73Z" fill="#EE6B50" stroke="#EE6B50" stroke-width="0.8" stroke-linejoin="round"/><path d="M632.17 865.38H639.87L636.02 858.73Z" fill="#EE6B50" stroke="#EE6B50" stroke-width="0.8" stroke-linejoin="round"/><path d="M649.05 865.38H656.75L652.9 858.73Z" fill="#EE6B50" stroke="#EE6B50" stroke-width="0.8" stroke-linejoin="round"/>
<path d="M399.7 694.91 L408.14 694.91 L416.58 694.91 L425.02 694.91 L433.46 694.91 L441.9 694.91 L450.34 694.91 L458.78 710.71 L467.22 710.71 L475.66 710.71 L484.1 710.71 L492.54 710.71 L500.98 710.71 L509.42 710.71 L517.86 688.59 L526.3 716.72 L534.74 716.72 L543.18 716.72 L551.62 716.72 L560.06 716.72 L568.5 716.72 L576.94 716.72 L585.38 716.72 L593.82 716.72 L602.26 716.72 L610.7 716.72 L619.14 716.72 L627.58 716.72 L636.02 716.72 L644.46 716.72 L652.9 716.72" fill="none" stroke="#F9B25D" stroke-width="1.9" stroke-linejoin="round"/>
<circle cx="399.7" cy="694.91" r="3.45" fill="#F9B25D"/><circle cx="416.58" cy="694.91" r="3.45" fill="#F9B25D"/><circle cx="433.46" cy="694.91" r="3.45" fill="#F9B25D"/><circle cx="450.34" cy="694.91" r="3.45" fill="#F9B25D"/><circle cx="467.22" cy="710.71" r="3.45" fill="#F9B25D"/><circle cx="484.1" cy="710.71" r="3.45" fill="#F9B25D"/><circle cx="500.98" cy="710.71" r="3.45" fill="#F9B25D"/><circle cx="517.86" cy="688.59" r="3.45" fill="#F9B25D"/><circle cx="534.74" cy="716.72" r="3.45" fill="#F9B25D"/><circle cx="551.62" cy="716.72" r="3.45" fill="#F9B25D"/><circle cx="568.5" cy="716.72" r="3.45" fill="#F9B25D"/><circle cx="585.38" cy="716.72" r="3.45" fill="#F9B25D"/><circle cx="602.26" cy="716.72" r="3.45" fill="#F9B25D"/><circle cx="619.14" cy="716.72" r="3.45" fill="#F9B25D"/><circle cx="636.02" cy="716.72" r="3.45" fill="#F9B25D"/><circle cx="652.9" cy="716.72" r="3.45" fill="#F9B25D"/>
<path d="M399.7 703.67 L408.14 703.67 L416.58 703.67 L425.02 703.67 L433.46 703.67 L441.9 703.67 L450.34 703.67 L458.78 703.06 L467.22 703.06 L475.66 703.06 L484.1 703.06 L492.54 703.06 L500.98 703.06 L509.42 703.06 L517.86 694.09 L526.3 711.22 L534.74 711.22 L543.18 711.22 L551.62 711.22 L560.06 711.22 L568.5 711.22 L576.94 711.22 L585.38 711.22 L593.82 711.22 L602.26 711.22 L610.7 711.22 L619.14 711.22 L627.58 711.22 L636.02 711.22 L644.46 711.22 L652.9 711.22" fill="none" stroke="#A4DEDD" stroke-width="1.9" stroke-linejoin="round"/>
<path d="M395.85 701.47H403.55L399.7 708.12Z" fill="#A4DEDD" stroke="#A4DEDD" stroke-width="0.8" stroke-linejoin="round"/><path d="M412.73 701.47H420.43L416.58 708.12Z" fill="#A4DEDD" stroke="#A4DEDD" stroke-width="0.8" stroke-linejoin="round"/><path d="M429.61 701.47H437.31L433.46 708.12Z" fill="#A4DEDD" stroke="#A4DEDD" stroke-width="0.8" stroke-linejoin="round"/><path d="M446.49 701.47H454.19L450.34 708.12Z" fill="#A4DEDD" stroke="#A4DEDD" stroke-width="0.8" stroke-linejoin="round"/><path d="M463.37 700.86H471.07L467.22 707.51Z" fill="#A4DEDD" stroke="#A4DEDD" stroke-width="0.8" stroke-linejoin="round"/><path d="M480.25 700.86H487.95L484.1 707.51Z" fill="#A4DEDD" stroke="#A4DEDD" stroke-width="0.8" stroke-linejoin="round"/><path d="M497.13 700.86H504.83L500.98 707.51Z" fill="#A4DEDD" stroke="#A4DEDD" stroke-width="0.8" stroke-linejoin="round"/><path d="M514.01 691.89H521.71L517.86 698.54Z" fill="#A4DEDD" stroke="#A4DEDD" stroke-width="0.8" stroke-linejoin="round"/><path d="M530.89 709.02H538.59L534.74 715.67Z" fill="#A4DEDD" stroke="#A4DEDD" stroke-width="0.8" stroke-linejoin="round"/><path d="M547.77 709.02H555.47L551.62 715.67Z" fill="#A4DEDD" stroke="#A4DEDD" stroke-width="0.8" stroke-linejoin="round"/><path d="M564.65 709.02H572.35L568.5 715.67Z" fill="#A4DEDD" stroke="#A4DEDD" stroke-width="0.8" stroke-linejoin="round"/><path d="M581.53 709.02H589.23L585.38 715.67Z" fill="#A4DEDD" stroke="#A4DEDD" stroke-width="0.8" stroke-linejoin="round"/><path d="M598.41 709.02H606.11L602.26 715.67Z" fill="#A4DEDD" stroke="#A4DEDD" stroke-width="0.8" stroke-linejoin="round"/><path d="M615.29 709.02H622.99L619.14 715.67Z" fill="#A4DEDD" stroke="#A4DEDD" stroke-width="0.8" stroke-linejoin="round"/><path d="M632.17 709.02H639.87L636.02 715.67Z" fill="#A4DEDD" stroke="#A4DEDD" stroke-width="0.8" stroke-linejoin="round"/><path d="M649.05 709.02H656.75L652.9 715.67Z" fill="#A4DEDD" stroke="#A4DEDD" stroke-width="0.8" stroke-linejoin="round"/>
<path d="M399.7 699.6 L408.14 699.6 L416.58 699.6 L425.02 699.6 L433.46 699.6 L441.9 699.6 L450.34 699.6 L458.78 700.21 L467.22 700.21 L475.66 700.21 L484.1 700.21 L492.54 700.21 L500.98 700.21 L509.42 700.21 L517.86 699.8 L526.3 704.49 L534.74 704.49 L543.18 704.49 L551.62 704.49 L560.06 704.49 L568.5 704.49 L576.94 704.49 L585.38 704.49 L593.82 704.49 L602.26 704.49 L610.7 704.49 L619.14 704.49 L627.58 704.49 L636.02 704.49 L644.46 704.49 L652.9 704.49" fill="none" stroke="#6E72B8" stroke-width="1.9" stroke-linejoin="round"/>
<rect x="396.7" y="696.6" width="6" height="6" fill="#6E72B8"/><rect x="413.58" y="696.6" width="6" height="6" fill="#6E72B8"/><rect x="430.46" y="696.6" width="6" height="6" fill="#6E72B8"/><rect x="447.34" y="696.6" width="6" height="6" fill="#6E72B8"/><rect x="464.22" y="697.21" width="6" height="6" fill="#6E72B8"/><rect x="481.1" y="697.21" width="6" height="6" fill="#6E72B8"/><rect x="497.98" y="697.21" width="6" height="6" fill="#6E72B8"/><rect x="514.86" y="696.8" width="6" height="6" fill="#6E72B8"/><rect x="531.74" y="701.49" width="6" height="6" fill="#6E72B8"/><rect x="548.62" y="701.49" width="6" height="6" fill="#6E72B8"/><rect x="565.5" y="701.49" width="6" height="6" fill="#6E72B8"/><rect x="582.38" y="701.49" width="6" height="6" fill="#6E72B8"/><rect x="599.26" y="701.49" width="6" height="6" fill="#6E72B8"/><rect x="616.14" y="701.49" width="6" height="6" fill="#6E72B8"/><rect x="633.02" y="701.49" width="6" height="6" fill="#6E72B8"/><rect x="649.9" y="701.49" width="6" height="6" fill="#6E72B8"/>
</g>
<path d="M399.7 668.6H652.9" stroke="#000" stroke-width="1" fill="none"/>
<path d="M399.7 668.1V872.45H652.9V668.1" stroke="#000" stroke-width="1.9" fill="none" stroke-linejoin="miter"/>
<path d="M399.7 872.45h4.3M399.7 826.12h4.3M399.7 779.79h4.3M399.7 733.46h4.3M399.7 687.13h4.3M652.9 872.45h-4.3M652.9 831.68h-4.3M652.9 790.91h-4.3M652.9 750.14h-4.3M652.9 709.37h-4.3M652.9 668.6h-4.3M399.7 872.45v-4.0M441.9 872.45v-4.0M484.1 872.45v-4.0M526.3 872.45v-4.0M568.5 872.45v-4.0M610.7 872.45v-4.0M652.9 872.45v-4.0" stroke="#000" stroke-width="1.5" fill="none"/>
<text class="tk" x="395.1" y="875.45" text-anchor="end">0</text><text class="tk" x="395.1" y="829.12" text-anchor="end">5</text><text class="tk" x="395.1" y="782.79" text-anchor="end">10</text><text class="tk" x="395.1" y="736.46" text-anchor="end">15</text><text class="tk" x="395.1" y="690.13" text-anchor="end">20</text>
<text class="tk" x="657.3" y="875.15">0</text><text class="tk" x="657.3" y="834.38">20</text><text class="tk" x="657.3" y="793.61">40</text><text class="tk" x="657.3" y="752.84">60</text><text class="tk" x="657.3" y="712.07">80</text><text class="tk" x="657.3" y="671.3">100</text>
<text class="tk" x="399.7" y="883.8" text-anchor="middle">0.0</text><text class="tk" x="441.9" y="883.8" text-anchor="middle">0.5</text><text class="tk" x="484.1" y="883.8" text-anchor="middle">1.0</text><text class="tk" x="526.3" y="883.8" text-anchor="middle">1.5</text><text class="tk" x="568.5" y="883.8" text-anchor="middle">2.0</text><text class="tk" x="610.7" y="883.8" text-anchor="middle">2.5</text><text class="tk" x="652.9" y="883.8" text-anchor="middle">3.0</text>
<text class="ax" transform="translate(379.8 770.53) rotate(-90)" text-anchor="middle">Attribute number</text>
<text class="ax" transform="translate(682.2 769.53) rotate(-90)" text-anchor="middle">accuarcy(%)</text>
<text class="gm" x="526.3" y="900.6" text-anchor="middle">γ</text>
<rect x="563" y="793.1" width="75.6" height="39.9" fill="#fff" stroke="#000" stroke-width="0.7"/>
<path d="M563.8 798.7h18.9" stroke="#EE6B50" stroke-width="1.7" fill="none"/><path d="M569.6 800.9H577.3L573.45 794.25Z" fill="#EE6B50" stroke="#EE6B50" stroke-width="0.8" stroke-linejoin="round"/><text class="lg" x="584.15" y="801.3">Attribute number</text>
<path d="M563.8 808.43h18.9" stroke="#F9B25D" stroke-width="1.7" fill="none"/><circle cx="573.45" cy="808.43" r="3.45" fill="#F9B25D"/><text class="lg" x="584.15" y="811.03">KNN</text>
<path d="M563.8 818.16h18.9" stroke="#A4DEDD" stroke-width="1.7" fill="none"/><path d="M569.6 815.96H577.3L573.45 822.61Z" fill="#A4DEDD" stroke="#A4DEDD" stroke-width="0.8" stroke-linejoin="round"/><text class="lg" x="584.15" y="820.76">CART</text>
<path d="M563.8 827.89h18.9" stroke="#6E72B8" stroke-width="1.7" fill="none"/><rect x="570.45" y="824.89" width="6" height="6" fill="#6E72B8"/><text class="lg" x="584.15" y="830.49">NB</text>
<text class="cap" x="486.6" y="946.9" textLength="19.3" lengthAdjust="spacingAndGlyphs">(f)</text><text class="cap" x="513.9" y="946.9" textLength="37.5" lengthAdjust="spacingAndGlyphs">Park</text>
</g>
</svg>
</body></html>
